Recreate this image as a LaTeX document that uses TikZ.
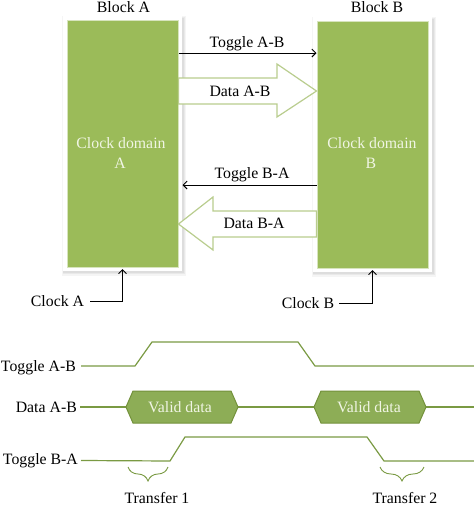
\documentclass[tikz,border=0pt]{standalone}
\usepackage{fontspec}
\setmainfont{LiberationSerif}[Extension=.ttf, UprightFont=*-Regular, BoldFont=*-Bold, ItalicFont=*-Italic, BoldItalicFont=*-BoldItalic]
\usetikzlibrary{arrows.meta,calc,decorations.pathreplacing,backgrounds}
\definecolor{blockgreen}{HTML}{9BBB59}
\definecolor{blockedge}{HTML}{D7E4BD}
\definecolor{blocktext}{HTML}{F0F5E4}
\definecolor{arrowedge}{HTML}{B9CD8E}
\definecolor{wavecol}{HTML}{7A9A43}
\definecolor{hexfill}{HTML}{8DAD56}
\definecolor{hexedge}{HTML}{73913B}
\begin{document}
\begin{tikzpicture}[x=1pt,y=-1pt,
  font=\fontsize{15.8}{19}\selectfont,
  block/.style={fill=blockgreen, draw=blockedge, line width=1pt,
    minimum width=111pt, minimum height=247pt, inner sep=0pt},
  lbl/.style={anchor=base, inner sep=0pt},
  rlbl/.style={anchor=base east, inner sep=0pt},
  intext/.style={anchor=base, inner sep=0pt, text=blocktext},
  arr/.style={-{Straight Barb[length=4pt,width=8pt]}, line width=0.9pt},
  fat/.style={draw=arrowedge, line width=1.2pt, fill=white, line join=miter},
  sig/.style={draw=wavecol, line width=1.2pt},
  hex/.style={fill=hexfill, draw=hexedge, line width=1pt},
  brc/.style={draw=wavecol, line width=0.9pt, decorate,
    decoration={brace, mirror, amplitude=14pt}},
]
\useasboundingbox (0,0) rectangle (474,528);

% blocks
\node[block] (A) at (122.5,143.5) {};
\node[block] (B) at (372.5,144.5) {};
\begin{scope}[on background layer]
  \foreach \n in {A,B}{
    \fill[black, opacity=0.04] ($(\n.north west)+(-5,-4)$) rectangle ($(\n.south east)+(7,8)$);
    \fill[black, opacity=0.05] ($(\n.north west)+(-4,-3)$) rectangle ($(\n.south east)+(6,6.5)$);
    \fill[black, opacity=0.05] ($(\n.north west)+(-3.5,-2)$) rectangle ($(\n.south east)+(5,5)$);
    \fill[white] ($(\n.north west)+(-3.5,-3.5)$) rectangle ($(\n.south east)+(3.5,3.5)$);
  }
\end{scope}

\node[lbl] (Atitle) at (123.5,12) {Block A};
\node[lbl] (Btitle) at (377,12) {Block B};
\node[intext] (Atxt1) at (121,148) {Clock domain};
\node[intext] (Atxt2) at (120,168) {A};
\node[intext] (Btxt1) at (372,148) {Clock domain};
\node[intext] (Btxt2) at (371,168) {B};

% toggles
\draw[arr] (A.east |- 0,53) -- (B.west |- 0,53);
\node[lbl] (tab) at (247,47) {Toggle A-B};
\draw[arr] (B.west |- 0,185) -- ([xshift=4pt]A.east |- 0,185);
\node[lbl] (tba) at (252,178) {Toggle B-A};

% fat data arrows
\draw[fat] (A.east |- 0,78) -- (277,78) -- (277,64) -- (B.west |- 0,91)
  -- (277,117) -- (277,104) -- (A.east |- 0,104) -- cycle;
\node[lbl] (dab) at (240,96) {Data A-B};
\draw[fat] (B.west |- 0,211) -- (213,211) -- (213,197) -- (A.east |- 0,224)
  -- (213,250) -- (213,237) -- (B.west |- 0,237) -- cycle;
\node[lbl] (dba) at (254,228) {Data B-A};

% clocks
\node[lbl] (clkA) at (57.5,306) {Clock A};
\draw[arr] ($(clkA.base east)+(6,-5)$) -| ([yshift=-1.5pt]A.south);
\node[lbl] (clkB) at (308,308) {Clock B};
\draw[arr] ($(clkB.base east)+(5,-5)$) -| ([yshift=-1.5pt]B.south);

% timing diagram
\node[rlbl] (wtab) at (76,371) {Toggle A-B};
\node[rlbl] (wdab) at (77,412) {Data A-B};
\node[rlbl] (wtba) at (78,464) {Toggle B-A};

\draw[sig] ($(wtab.base east)+(5,-5)$) -- (135,366) -- (152,342) -- (298,342)
  -- (315,366) -- (474,366);

\draw[sig] ($(wdab.base east)+(3,-5)$) -- (126,407);
\draw[sig] (238,407) -- (314,407);
\draw[sig] (426,407) -- (474,407);
\draw[hex] (126,407) -- (133,391) -- (231,391) -- (238,407) -- (231,423) -- (133,423) -- cycle;
\draw[hex] (314,407) -- (321,391) -- (419,391) -- (426,407) -- (419,423) -- (321,423) -- cycle;
\node[intext] (v1) at (180,412) {Valid data};
\node[intext] (v2) at (369,412) {Valid data};

\draw[sig] ($(wtba.base east)+(3,-3.5)$) -- (170,461) -- (185,437) -- (367,437)
  -- (384,461) -- (474,461);

% braces
\coordinate (b1s) at (128,467);
\coordinate (b1e) at (168,467);
\coordinate (b2s) at (380,467);
\coordinate (b2e) at (424,467);
\draw[brc] (b1s) -- (b1e);
\draw[brc] (b2s) -- (b2e);
\node[lbl] (tr1) at (157,503) {Transfer 1};
\node[lbl] (tr2) at (405,503) {Transfer 2};
\end{tikzpicture}
\end{document}
